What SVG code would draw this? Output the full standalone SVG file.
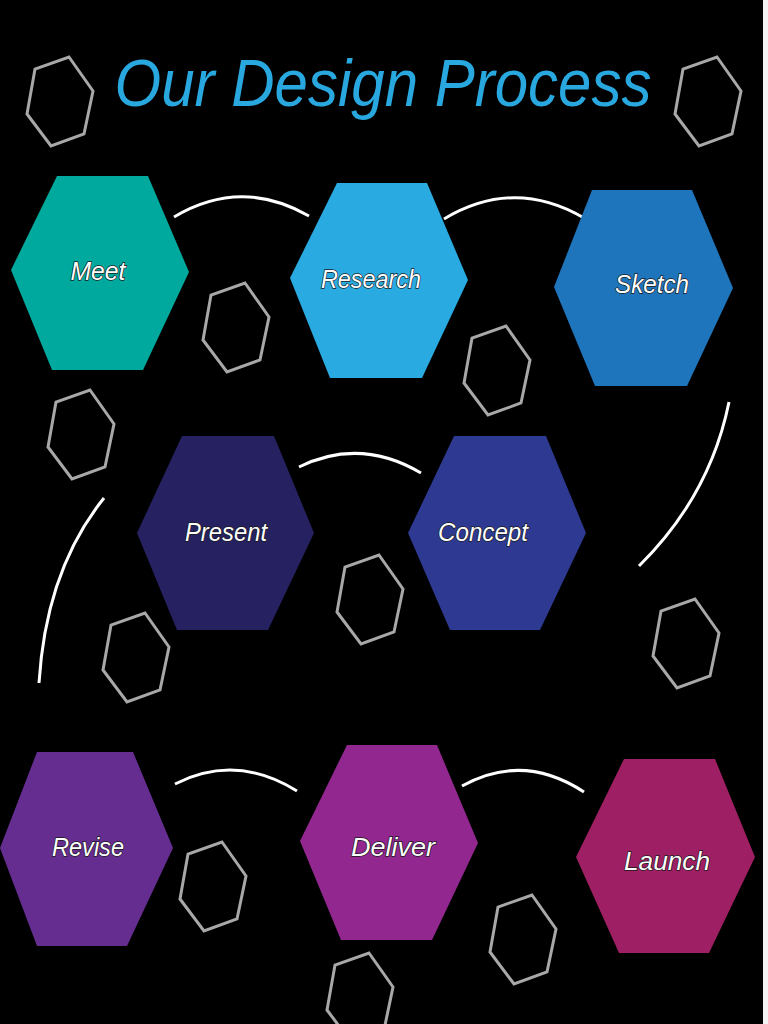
<svg xmlns="http://www.w3.org/2000/svg" xmlns:xlink="http://www.w3.org/1999/xlink" width="768" height="1024" viewBox="0 0 768 1024">
<style>
.title{font-family:"Liberation Sans","DejaVu Sans",sans-serif;font-style:italic;font-size:66px;fill:#29a8e0;}
.lbl{font-family:"Liberation Sans","DejaVu Sans",sans-serif;font-style:italic;font-size:25px;fill:#ffffff;stroke:#1a1a1a;stroke-width:1.4;paint-order:stroke;text-anchor:middle;}
.arc{fill:none;stroke:#ffffff;stroke-width:3;}
.deco{fill:none;stroke:#a8a8a8;stroke-width:3;stroke-linejoin:miter;}
</style>
<defs>
<path id="oh" d="M49,7 L73,41 L64,84 L31,96 L7,64 L15,19 Z"/>
</defs>
<rect width="768" height="1024" fill="#000"/>
<rect x="763" y="0" width="5" height="1024" fill="#f2f2f2"/>
<g id="decor">
<use href="#oh" class="deco" x="20" y="50"/>
<use href="#oh" class="deco" x="668" y="50"/>
<use href="#oh" class="deco" x="196" y="276"/>
<use href="#oh" class="deco" x="457" y="319"/>
<use href="#oh" class="deco" x="41" y="383"/>
<use href="#oh" class="deco" x="330" y="548"/>
<use href="#oh" class="deco" x="96" y="606"/>
<use href="#oh" class="deco" x="646" y="592"/>
<use href="#oh" class="deco" x="173" y="835"/>
<use href="#oh" class="deco" x="483" y="888"/>
<use href="#oh" class="deco" x="320" y="946"/>
</g>
<text class="title" x="383" y="106" text-anchor="middle" textLength="537" lengthAdjust="spacingAndGlyphs">Our Design Process</text>
<g id="connectors">
<path class="arc" d="M174,217 Q241,177 309,216"/>
<path class="arc" d="M444,219 Q514,177 584,218"/>
<path class="arc" d="M729,402 Q710,496 639,566"/>
<path class="arc" d="M299,467 Q360,437 421,473"/>
<path class="arc" d="M104,498 Q46,570 39,683"/>
<path class="arc" d="M175,784 Q236,753 297,791"/>
<path class="arc" d="M462,786 Q523,752 584,792"/>
</g>
<g id="meet">
<polygon points="57,176 148,176 189,272 143,370 52,370 11,270" fill="#00a99d"/>
<text class="lbl" x="98" y="280" textLength="55" lengthAdjust="spacingAndGlyphs">Meet</text>
</g>
<g id="research">
<polygon points="337,183 427,183 468,280 422,378 330,378 290,278" fill="#29aae1"/>
<text class="lbl" x="371" y="288" textLength="100" lengthAdjust="spacingAndGlyphs">Research</text>
</g>
<g id="sketch">
<polygon points="592,190 692,190 733,288 687,386 595,386 554,287" fill="#1f75bb"/>
<text class="lbl" x="652" y="293" textLength="74" lengthAdjust="spacingAndGlyphs">Sketch</text>
</g>
<g id="present">
<polygon points="182,436 274,436 314,533 268,630 177,630 137,533" fill="#262261"/>
<text class="lbl" x="226" y="541" textLength="82" lengthAdjust="spacingAndGlyphs">Present</text>
</g>
<g id="concept">
<polygon points="454,436 546,436 586,533 540,630 450,630 408,533" fill="#2e3a92"/>
<text class="lbl" x="483" y="541" textLength="90" lengthAdjust="spacingAndGlyphs">Concept</text>
</g>
<g id="revise">
<polygon points="37,752 133,752 173,848 127,946 37,946 0,848" fill="#662d91"/>
<text class="lbl" x="88" y="856" textLength="72" lengthAdjust="spacingAndGlyphs">Revise</text>
</g>
<g id="deliver">
<polygon points="347,745 437,745 478,843 432,940 341,940 300,841" fill="#92278f"/>
<text class="lbl" x="393" y="856" textLength="84" lengthAdjust="spacingAndGlyphs">Deliver</text>
</g>
<g id="launch">
<polygon points="624,759 715,759 755,857 709,953 619,953 576,857" fill="#9e1f63"/>
<text class="lbl" x="667" y="870" textLength="86" lengthAdjust="spacingAndGlyphs">Launch</text>
</g>
</svg>
